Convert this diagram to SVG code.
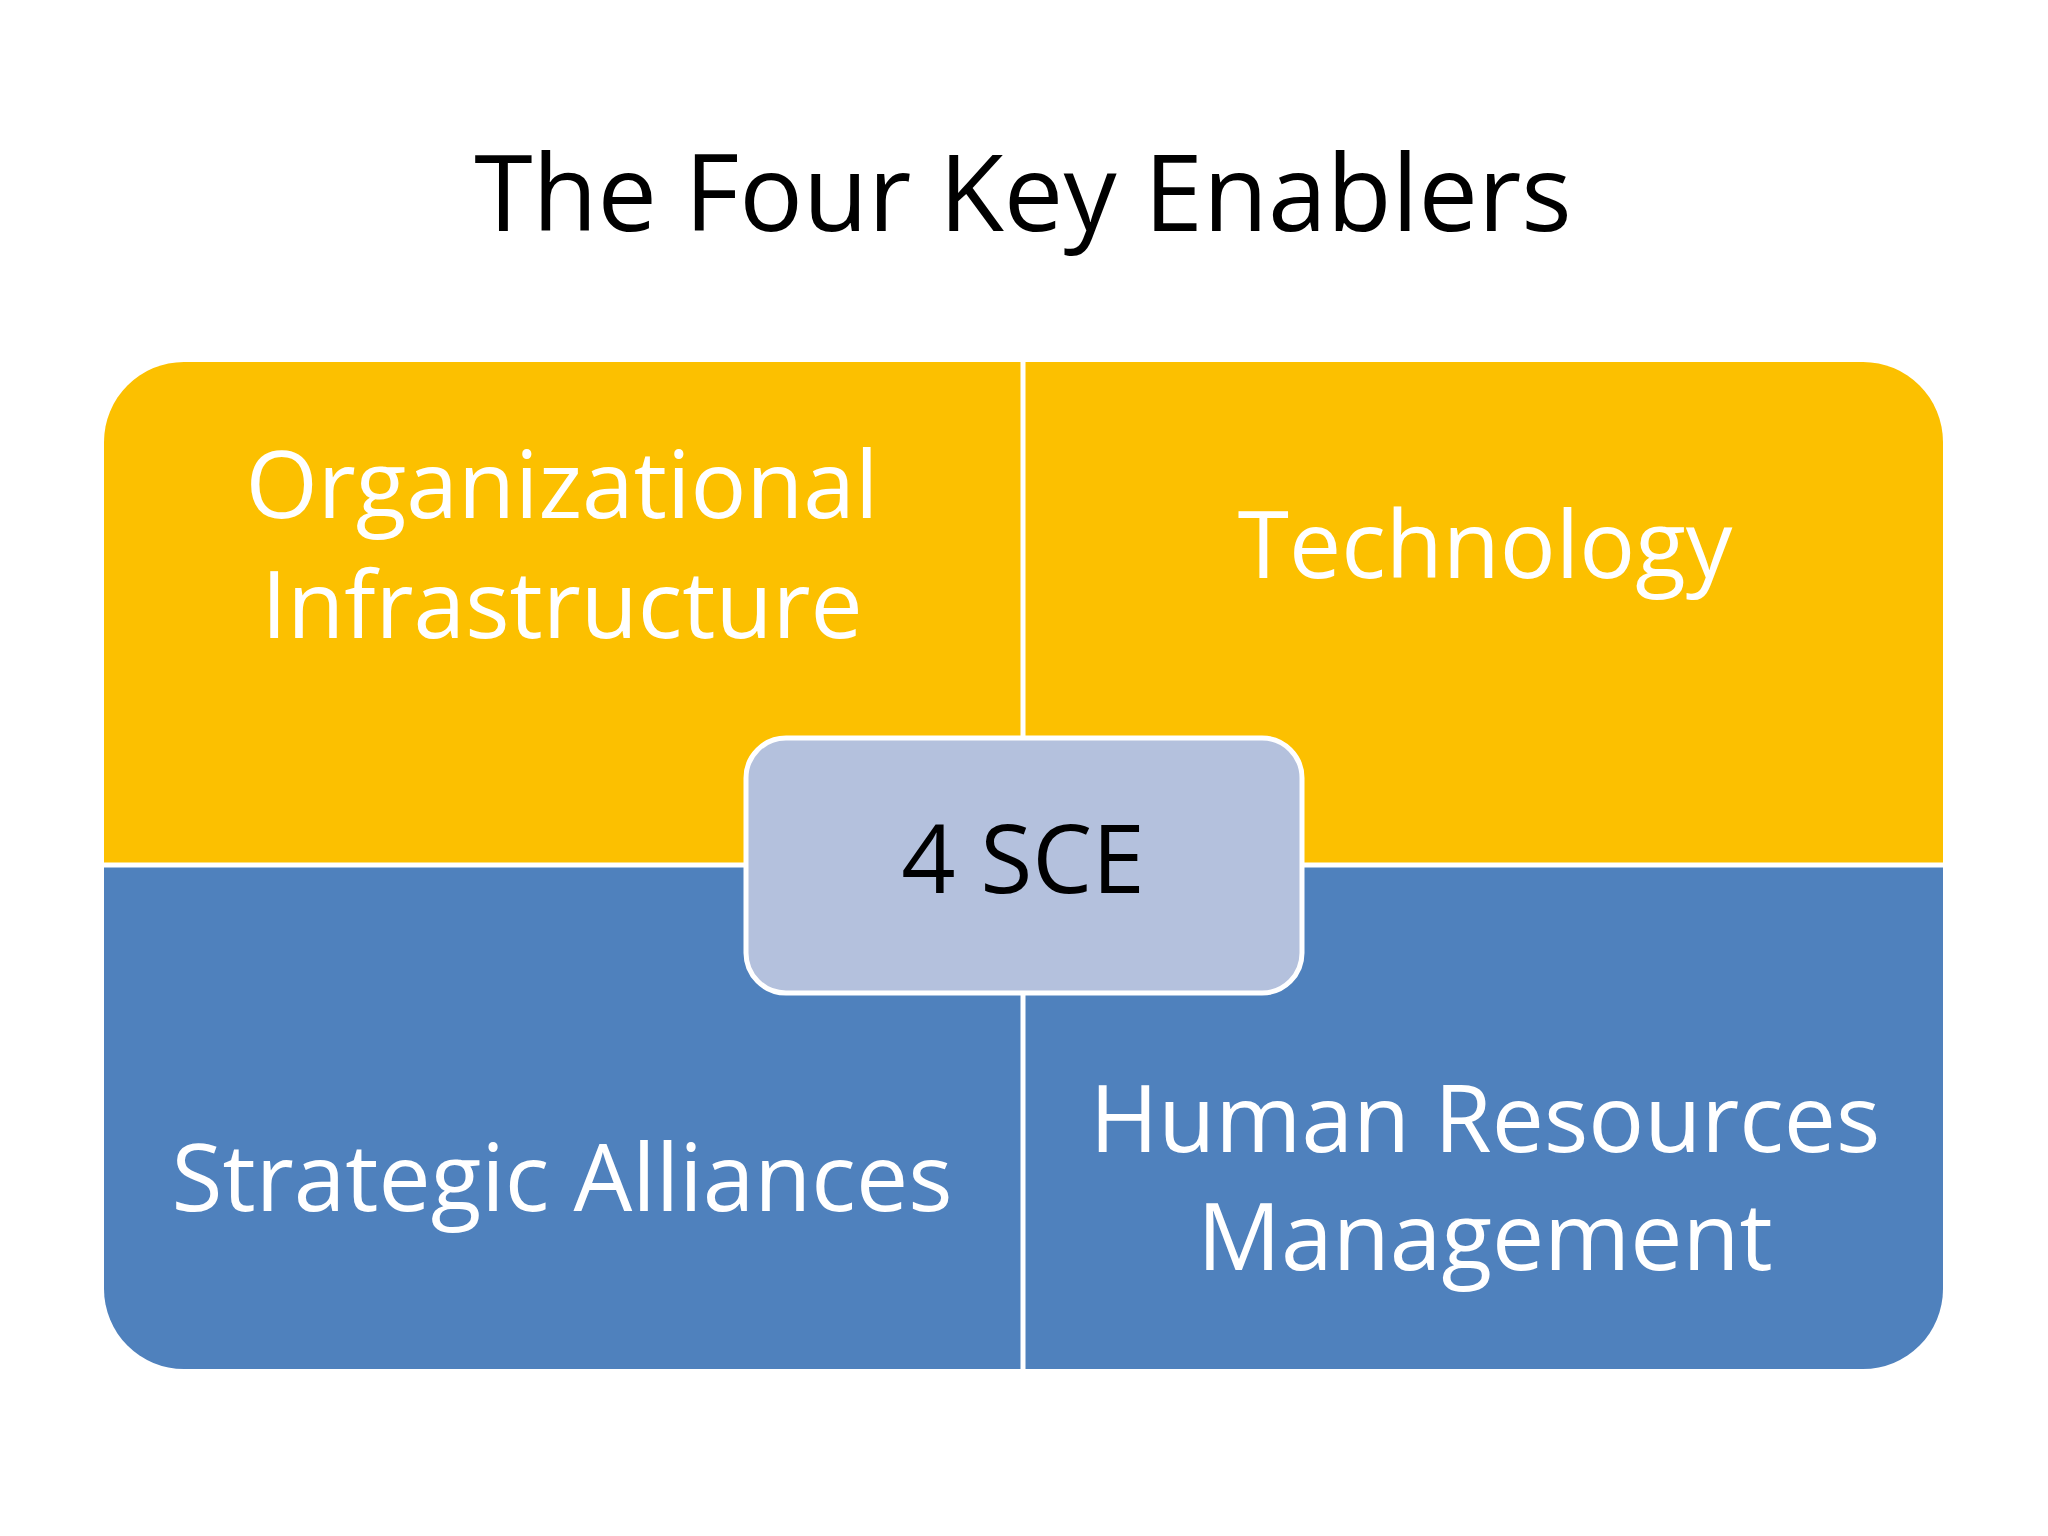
<svg xmlns="http://www.w3.org/2000/svg" width="2048" height="1536" viewBox="0 0 2048 1536">
<style>
.t{font-family:"Open Sans","Liberation Sans",sans-serif;text-anchor:middle}
.w{fill:#ffffff;font-size:93px}
</style>
<rect width="2048" height="1536" fill="#ffffff"/>
<text class="t" x="1023" y="231" font-size="106" fill="#000">The Four Key Enablers</text>
<g id="quadrants">
<path id="q1" d="M104,865 V442 A80,80 0 0 1 184,362 H1023 V865 Z" fill="#FCC000"/>
<path id="q2" d="M1023,362 H1863 A80,80 0 0 1 1943,442 V865 H1023 Z" fill="#FCC000"/>
<path id="q3" d="M104,865 H1023 V1369 H184 A80,80 0 0 1 104,1289 Z" fill="#4F81BD"/>
<path id="q4" d="M1023,865 H1943 V1289 A80,80 0 0 1 1863,1369 H1023 Z" fill="#4F81BD"/>
<line x1="1023" y1="362" x2="1023" y2="1369" stroke="#fff" stroke-width="5"/>
<line x1="104" y1="865" x2="1943" y2="865" stroke="#fff" stroke-width="5"/>
</g>
<g id="labels">
<text class="t w" x="562" y="518">Organizational</text>
<text class="t w" x="562" y="638">Infrastructure</text>
<text class="t w" x="1485" y="578">Technology</text>
<text class="t w" x="562" y="1211">Strategic Alliances</text>
<text class="t w" x="1485" y="1152">Human Resources</text>
<text class="t w" x="1485" y="1270">Management</text>
</g>
<g id="center">
<rect x="746" y="738" width="556" height="255" rx="40" fill="#B4C1DD" stroke="#fff" stroke-width="5"/>
<text class="t" x="1023" y="893" font-size="95" fill="#000">4 SCE</text>
</g>
</svg>
